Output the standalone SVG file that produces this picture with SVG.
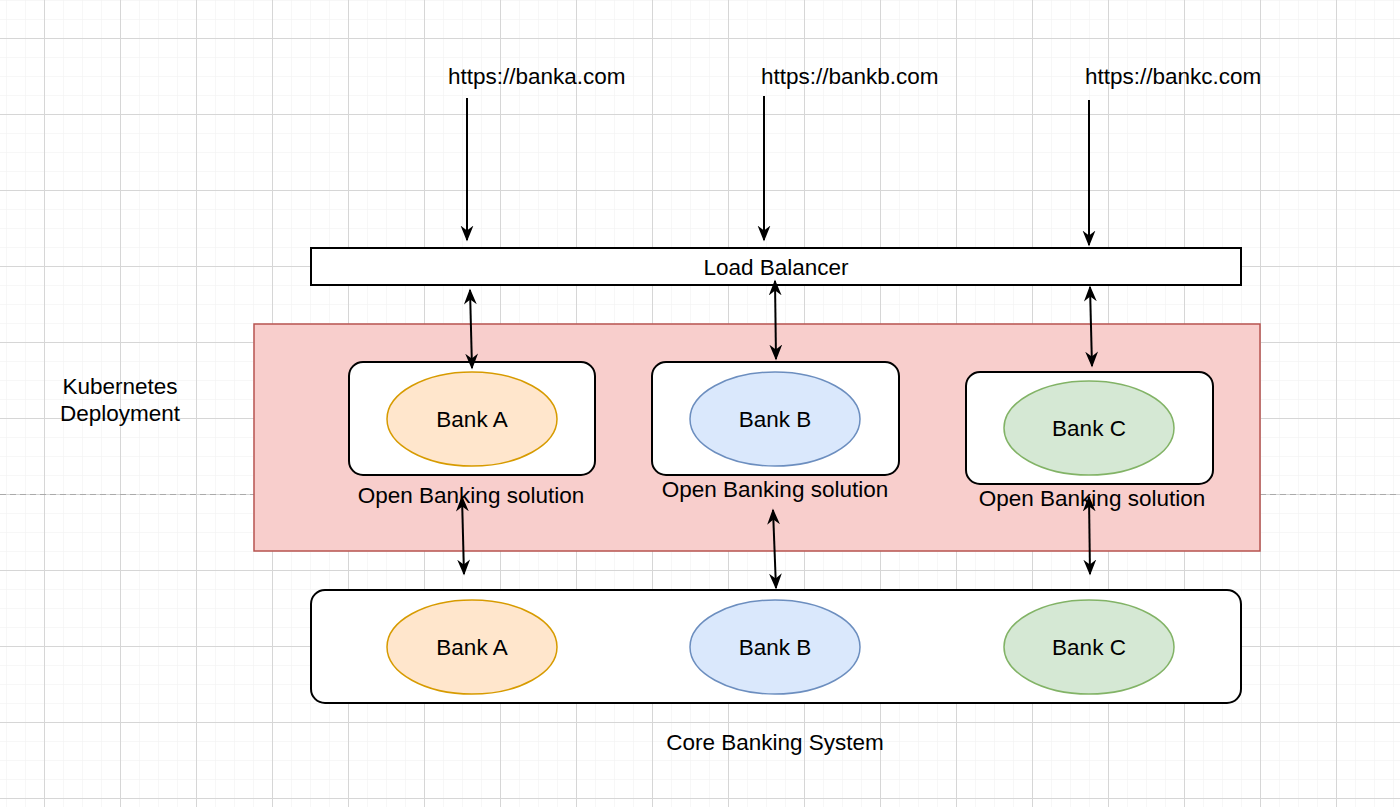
<svg xmlns="http://www.w3.org/2000/svg" width="1400" height="807" viewBox="0 0 1400 807">
<defs>
<pattern id="minor" x="6" y="0" width="19" height="19" patternUnits="userSpaceOnUse"><path d="M0 0H19M0 0V19" fill="none" stroke="#f0f0f0" stroke-width="1"/></pattern>
<pattern id="major" x="44" y="38" width="76" height="76" patternUnits="userSpaceOnUse"><path d="M0 0.5H76M0.5 0V76" fill="none" stroke="#d6d6d6" stroke-width="1"/></pattern>
<marker id="ah" viewBox="0 0 10 10" refX="9" refY="5" markerWidth="16" markerHeight="16" orient="auto-start-reverse" markerUnits="userSpaceOnUse"><path d="M0 1L10 5L0 9L3 5Z" fill="#000"/></marker>
</defs>
<style>
text{font-family:"Liberation Sans",Arial,sans-serif;font-size:22.5px;fill:#000}
.c line{stroke:#000;stroke-width:2;marker-end:url(#ah)}
.c line.b{marker-start:url(#ah)}
.box{fill:#fff;stroke:#000;stroke-width:2}
.a{fill:#ffe6cc;stroke:#d79b00;stroke-width:1.5}
.bb{fill:#dae8fc;stroke:#6c8ebf;stroke-width:1.5}
.cc{fill:#d5e8d4;stroke:#82b366;stroke-width:1.5}
</style>
<rect width="1400" height="807" fill="#fff"/>
<rect width="1400" height="807" fill="url(#minor)"/>
<rect width="1400" height="807" fill="url(#major)"/>
<line x1="0" y1="494.5" x2="1400" y2="494.5" stroke="#aaa" stroke-dasharray="6 4"/>
<g id="urls">
<text x="448" y="84">https://banka.com</text>
<text x="761" y="84">https://bankb.com</text>
<text x="1085" y="84">https://bankc.com</text>
</g>
<g id="k8s"><rect x="254" y="324" width="1006" height="227" fill="#f8cecc" stroke="#b85450" stroke-width="1.5"/>
<text x="120" y="394" text-anchor="middle">Kubernetes</text><text x="120" y="421" text-anchor="middle">Deployment</text></g>
<g id="lb"><rect x="311" y="248" width="930" height="37" class="box"/><text x="776" y="275" text-anchor="middle">Load Balancer</text></g>
<g id="obA"><rect x="349" y="362" width="246" height="113" rx="14" class="box"/><ellipse cx="472" cy="419" rx="85" ry="47" class="a"/><text x="472" y="427" text-anchor="middle">Bank A</text><text x="471" y="503" text-anchor="middle">Open Banking solution</text></g>
<g id="obB"><rect x="652" y="362" width="247" height="113" rx="14" class="box"/><ellipse cx="775" cy="419" rx="85" ry="47" class="bb"/><text x="775" y="427" text-anchor="middle">Bank B</text><text x="775" y="497" text-anchor="middle">Open Banking solution</text></g>
<g id="obC"><rect x="966" y="372" width="247" height="112" rx="14" class="box"/><ellipse cx="1089" cy="428" rx="85" ry="47" class="cc"/><text x="1089" y="436" text-anchor="middle">Bank C</text><text x="1092" y="506" text-anchor="middle">Open Banking solution</text></g>
<g id="core"><rect x="311" y="590" width="930" height="113" rx="14" class="box"/>
<ellipse cx="472" cy="647" rx="85" ry="47" class="a"/><text x="472" y="655" text-anchor="middle">Bank A</text>
<ellipse cx="775" cy="647" rx="85" ry="47" class="bb"/><text x="775" y="655" text-anchor="middle">Bank B</text>
<ellipse cx="1089" cy="647" rx="85" ry="47" class="cc"/><text x="1089" y="655" text-anchor="middle">Bank C</text>
<text x="775" y="750" text-anchor="middle">Core Banking System</text></g>
<g class="c" id="connectors">
<line x1="467" y1="98" x2="467" y2="240"/>
<line x1="764" y1="96" x2="764" y2="240"/>
<line x1="1089" y1="100" x2="1089" y2="245"/>
<line class="b" x1="470" y1="290" x2="472" y2="368"/>
<line class="b" x1="775" y1="281" x2="776" y2="359"/>
<line class="b" x1="1090" y1="287" x2="1092" y2="366"/>
<line class="b" x1="462" y1="497" x2="464" y2="574"/>
<line class="b" x1="773" y1="510" x2="776" y2="588"/>
<line class="b" x1="1089" y1="497" x2="1090" y2="574"/>
</g>
</svg>
